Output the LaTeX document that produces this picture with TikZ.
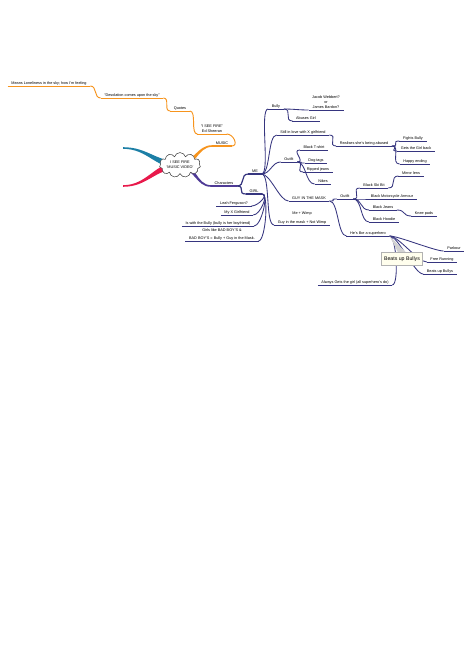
\documentclass[tikz,border=0pt]{standalone}
\usepackage{fontspec}
\setmainfont{Liberation Sans}
\usepackage{xcolor}
\usepackage{tikz}
\usetikzlibrary{positioning,calc,shapes.symbols}

\definecolor{mmorange}{HTML}{F7941D}
\definecolor{mmteal}{HTML}{1C7FA6}
\definecolor{mmred}{HTML}{E8194B}
\definecolor{mmpurple}{HTML}{4E3A96}
\definecolor{mmnavy}{HTML}{36357F}

% tapered main branch: colour, start, end, control offset, half width
\newcommand{\mmbranch}[5]{%
  \fill[#1] ($(#2)+(0,#5)$) .. controls +(#4,0) and +({-1*(#4)},0) .. ($(#3)+(0,0.8)$)
    -- ($(#3)+(0,-0.8)$) .. controls +({-1*(#4)},0) and +(#4,0) .. ($(#2)+(0,-#5)$) -- cycle;}

\begin{document}
\begin{tikzpicture}[x=1pt, y=-1pt,
    topic/.style={font=\fontsize{3.8}{5.3}\selectfont, inner xsep=3.5pt, inner ysep=0.9pt, anchor=south, align=center},
    navyline/.style={draw=mmnavy, line width=0.85pt},
    orangeline/.style={draw=mmorange, line width=0.95pt},
    link/.style={out=0, in=180, distance=9pt},
    hang/.style={out=0, in=0, distance=7pt},
    back/.style={out=180, in=0, distance=7pt},
    idea/.style={cloud, cloud puffs=11, aspect=2.2, draw=black!75, fill=white, line width=0.4pt,
      minimum width=41pt, minimum height=22pt, inner sep=0pt, align=center,
      font=\fontsize{3.8}{5.3}\selectfont},
    callout/.style={draw=gray!60, fill=yellow!7, inner sep=2.5pt, minimum height=13pt,
      font=\fontsize{5.2}{6}\selectfont}
]
\useasboundingbox (0,0) rectangle (474,670);
\fill[white] (0,0) rectangle (474,670);

% centre and main branches
\coordinate (tealend) at (123,148);
\coordinate (redend) at (123,186);
\node[topic] (music) at (222,146) {MUSIC};
\node[topic] (characters) at (224,186) {Characters};
\node[idea] (cloud) at (180,165) {I SEE FIRE\\‘MUSIC VIDEO’};

% music side
\node[topic] (edsh) at (212,134) {“I SEE FIRE”\\Ed Sheeran};
\node[topic] (quotes) at (180,111) {Quotes};
\node[topic] (deso) at (132,98) {“Desolation comes upon the sky”};
\node[topic] (means) at (49,86) {Means Loneliness in the sky; how I’m feeling};

% characters side
\node[topic] (me) at (255,174) {ME};
\node[topic] (girl) at (254,194) {GIRL};
\node[topic] (bully) at (276,109) {Bully};
\node[topic] (jacob) at (326,110) {Jacob Webbert?\\or\\James Bardon?};
\node[topic] (abuses) at (306,121) {Abuses Girl};
\node[topic] (still) at (303,135) {Still in love with X girlfriend};
\node[topic] (realises) at (364,146) {Realises she’s being abused};
\node[topic] (fights) at (413,141) {Fights Bully};
\node[topic] (getsgirl) at (416,151) {Gets the Girl back};
\node[topic] (happy) at (415,164) {Happy ending};
\node[topic] (outfitme) at (289,162) {Outfit};
\node[topic] (tshirt) at (314,150) {Black T-shirt};
\node[topic] (dogtags) at (316,163) {Dog tags};
\node[topic] (ripped) at (318,172) {Ripped jeans};
\node[topic] (nikes) at (323,184) {Nikes};
\node[topic] (guy) at (309,201) {GUY IN THE MASK};
\node[topic] (outfitguy) at (345,199) {Outfit};
\node[topic] (skibit) at (374,188) {Black Ski Bit};
\node[topic] (mirror) at (411,176) {Mirror lens};
\node[topic] (armour) at (392,199) {Black Motorcycle Armour};
\node[topic] (jeans) at (383,210) {Black Jeans};
\node[topic] (knee) at (424,216) {Knee pads};
\node[topic] (hoodie) at (384,222) {Black Hoodie};
\node[topic] (wimp) at (302,225) {Me + Wimp\\[3.8pt]Guy in the mask + Not Wimp};
\node[topic] (superhero) at (368,236) {He’s like a superhero};
\node[topic] (parkour) at (454,251) {Parkour};
\node[topic] (freerun) at (442,262) {Free Running};
\node[topic] (beats) at (440,274) {Beats up Bullys};
\node[topic] (always) at (355,285) {Always Gets the girl (all superhero’s do)};
\node[topic] (leah) at (234,206) {Leah Ferguson?};
\node[topic] (myx) at (237,215) {My X Girlfriend};
\node[topic] (iswith) at (218,226) {Is with the Bully (bully is her boyfriend)};
\node[topic] (girls) at (222,241) {Girls like BAD BOY’S \&\\[2.5pt]BAD BOY’S = Bully + Guy in the Mask.};
\node[callout] (callbox) at (402,259) {Beats up Bullys};

% branches behind the cloud
\mmbranch{mmteal}{cloud.center}{tealend}{-25}{3.5}
\mmbranch{mmred}{cloud.center}{redend}{-25}{3.5}
\mmbranch{mmorange}{cloud.center}{music.south west}{15}{3.5}
\mmbranch{mmpurple}{cloud.center}{characters.south west}{15}{3.5}
\node[idea] at (cloud.center) {I SEE FIRE\\‘MUSIC VIDEO’};
\draw[mmorange, line width=1.3pt] (music.south west) -- (music.south east);
\draw[mmpurple, line width=1.3pt] (characters.south west) -- (characters.south east);

% underlines
\foreach \n in {edsh,quotes,deso,means}
  \draw[orangeline] (\n.south west) -- (\n.south east);
\foreach \n in {me,girl}
  \draw[navyline, line width=1.2pt] (\n.south west) -- (\n.south east);
\foreach \n in {bully,jacob,abuses,still,realises,fights,getsgirl,happy,outfitme,tshirt,
    dogtags,ripped,nikes,guy,outfitguy,skibit,mirror,armour,jeans,knee,hoodie,wimp,
    superhero,parkour,freerun,beats,always,leah,myx,iswith,girls}
  \draw[navyline] (\n.south west) -- (\n.south east);

% connectors
\draw[orangeline] (music.south east) to[hang] (edsh.south east);
\foreach \a/\b in {edsh/quotes,quotes/deso,deso/means}
  \draw[orangeline] (\a.south west) to[back] (\b.south east);
\foreach \a/\b in {characters/me,characters/girl}
  \draw[navyline, line width=1.2pt] (\a.south east) to[link] (\b.south west);
\foreach \a/\b in {me/bully,me/still,me/outfitme,me/guy,me/wimp,bully/jacob,bully/abuses,
    still/realises,realises/fights,realises/getsgirl,realises/happy,outfitme/tshirt,
    outfitme/dogtags,outfitme/ripped,outfitme/nikes,guy/outfitguy,guy/superhero,
    outfitguy/skibit,outfitguy/armour,outfitguy/jeans,outfitguy/hoodie,skibit/mirror,
    jeans/knee,superhero/parkour,superhero/freerun,superhero/beats}
  \draw[navyline] (\a.south east) to[link] (\b.south west);
\foreach \a/\b in {superhero/always,girl/leah,girl/myx,girl/iswith,girl/girls}
  \draw[navyline] (\a.south east) to[hang] (\b.south east);
\fill[gray!35] (superhero.south east) -- ($(callbox.north)+(-4,0)$) -- ($(callbox.north)+(4,0)$) -- cycle;
\node[callout] at (callbox.center) {Beats up Bullys};
\end{tikzpicture}
\end{document}
